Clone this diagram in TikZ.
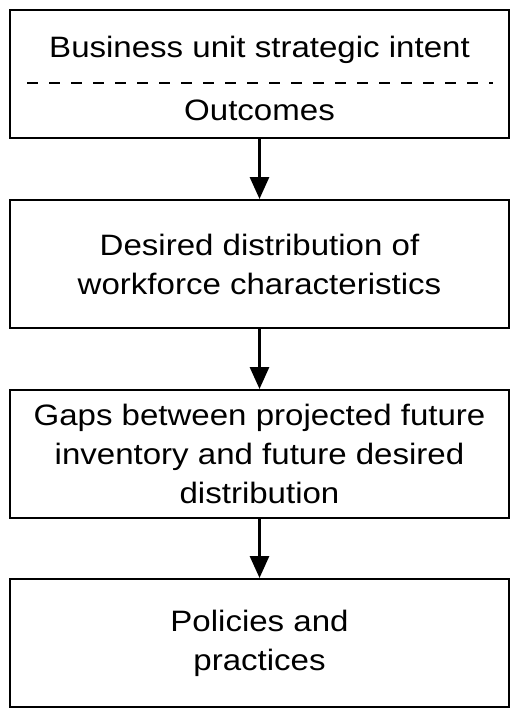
\documentclass[tikz,border=0pt]{standalone}
\usepackage{fontspec}
\setmainfont[FakeStretch=1.12]{Liberation Sans}
\usetikzlibrary{arrows.meta,positioning}

\tikzset{
  stage/.style={draw,line width=2pt,minimum width=499pt,minimum height=128pt,inner sep=0pt,align=center,font=\fontsize{29.5}{39}\selectfont},
  label/.style={inner sep=0pt,anchor=base,font=\fontsize{29.5}{39}\selectfont},
  flow/.style={line width=3pt,-{Triangle[length=22pt,width=19pt]}}
}

\begin{document}
\begin{tikzpicture}[x=1pt,y=-1pt]
\useasboundingbox (0,0) rectangle (514,709);

\node[stage] (intent) at (259.5,74) {};
\node[stage,below=60pt of intent] (desired) {Desired distribution of\\workforce characteristics};
\node[stage,below=60pt of desired] (gaps) {Gaps between projected future\\inventory and future desired\\distribution};
\node[stage,below=59pt of gaps] (policies) {Policies and\\practices};

% split of the first box
\node[label] (unit) at ([yshift=-48.5pt]intent.north) {Business unit strategic intent};
\node[label] (outcomes) at ([yshift=-111pt]intent.north) {Outcomes};
\coordinate (splitL) at ([xshift=18pt,yshift=-73.5pt]intent.north west);
\coordinate (splitR) at ([xshift=-17pt,yshift=-73.5pt]intent.north east);
\draw[line width=2pt,dash pattern=on 11pt off 11pt] (splitL) -- (splitR);

\draw[flow] (intent) -- (desired);
\draw[flow] (desired) -- (gaps);
\draw[flow] (gaps) -- (policies);
\end{tikzpicture}
\end{document}
